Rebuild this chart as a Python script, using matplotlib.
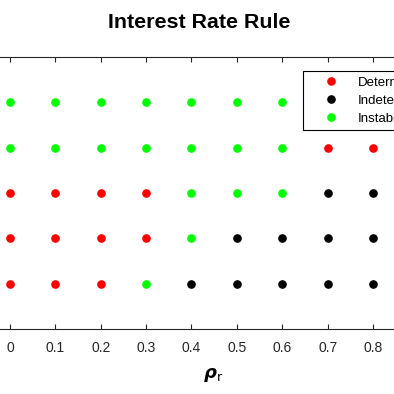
import matplotlib
matplotlib.use('Agg')
import matplotlib.pyplot as plt

# grid of rho_r values (x) and row levels (y)
rho_r = [0.0, 0.1, 0.2, 0.3, 0.4, 0.5, 0.6, 0.7, 0.8]
row_levels = [1, 2, 3, 4, 5]

# regime per grid point, one list per row (bottom -> top)
# D = Determinacy, I = Indeterminacy, S = Instability
regime_row1 = ['D', 'D', 'D', 'S', 'I', 'I', 'I', 'I', 'I']
regime_row2 = ['D', 'D', 'D', 'D', 'S', 'I', 'I', 'I', 'I']
regime_row3 = ['D', 'D', 'D', 'D', 'S', 'S', 'S', 'I', 'I']
regime_row4 = ['S', 'S', 'S', 'S', 'S', 'S', 'S', 'D', 'D']
regime_row5 = ['S', 'S', 'S', 'S', 'S', 'S', 'S', 'S', 'S']

regime_names = {'D': 'Determinacy', 'I': 'Indeterminacy', 'S': 'Instability'}
regime_colors = {'D': '#ff0000', 'I': '#000000', 'S': '#00ff00'}

plt.rcParams['font.family'] = ['Liberation Sans', 'DejaVu Sans']
plt.rcParams['mathtext.fontset'] = 'dejavusans'

fig = plt.figure(figsize=(3.94, 3.94), dpi=100)
ax = fig.add_axes([-0.090, 0.165, 1.152, 0.690])  # axes wider than the figure, like the cropped original

rows = [regime_row1, regime_row2, regime_row3, regime_row4, regime_row5]
for key in ['D', 'I', 'S']:  # one series per regime so the legend gets three entries
    xs, ys = [], []
    for level, row in zip(row_levels, rows):
        for r, reg in zip(rho_r, row):
            if reg == key:
                xs.append(r)
                ys.append(level)
    ax.plot(xs, ys, 'o', color=regime_colors[key], markersize=5.2,
            linestyle='none', label=regime_names[key])

ax.set_xlim(-0.1, 0.9)
ax.set_ylim(0, 6)
ax.set_xticks(rho_r)
ax.set_xticklabels(['0', '0.1', '0.2', '0.3', '0.4', '0.5', '0.6', '0.7', '0.8'])
ax.set_yticks(range(0, 7))

spine_col = '#262626'
for sp in ax.spines.values():
    sp.set_color(spine_col)
    sp.set_linewidth(0.8)
ax.tick_params(direction='in', top=True, right=True, length=3.6, width=0.8,
               colors=spine_col, labelsize=10, pad=9)
ax.tick_params(axis='y', labelleft=False)  # y labels sit outside the cropped view

ax.set_title('Interest Rate Rule', fontsize=15.4, fontweight='bold', pad=21, x=0.5165)
ax.set_xlabel(r'$\boldsymbol{\rho}_{\mathrm{r}}$', fontsize=13)
ax.xaxis.set_label_coords(0.547, -0.135)

leg = ax.legend(loc='upper left', bbox_to_anchor=(303 / 394, 1 - 71 / 394),
                bbox_transform=fig.transFigure, fontsize=9.5, frameon=True,
                fancybox=False, framealpha=1.0, borderaxespad=0, borderpad=0.4,
                handlelength=3.4, handletextpad=0.35, labelspacing=0.45)
leg.get_frame().set_edgecolor('black')
leg.get_frame().set_linewidth(0.8)

plt.savefig('out.png', dpi=100)
plt.close(fig)
